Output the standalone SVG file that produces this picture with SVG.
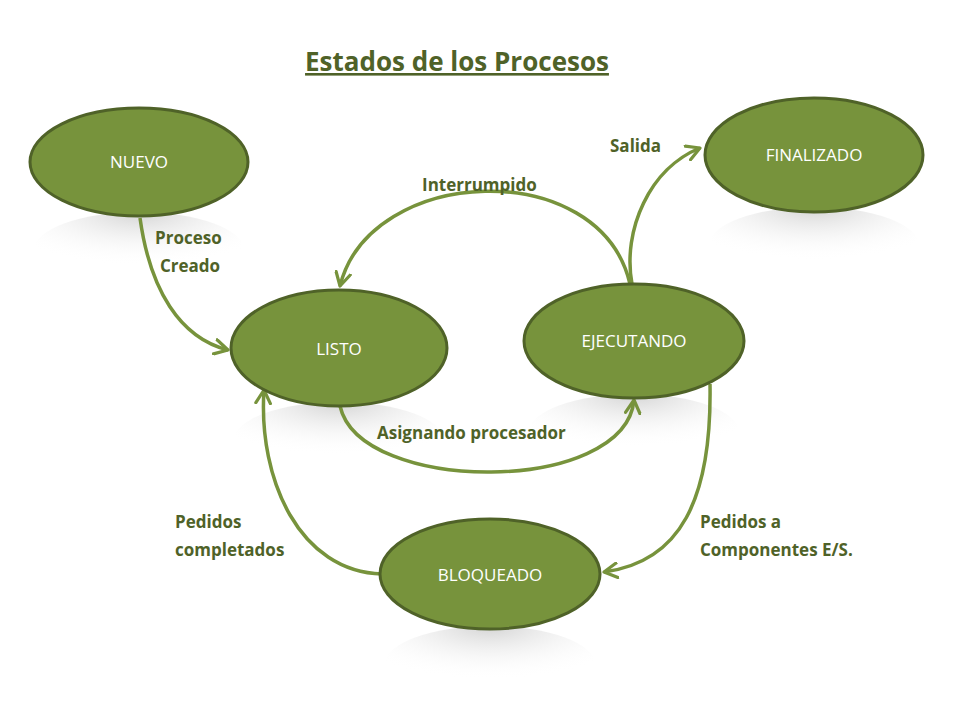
<svg xmlns="http://www.w3.org/2000/svg" width="960" height="720" viewBox="0 0 960 720">
<defs>
<radialGradient id="refl" cx="0.5" cy="0" r="0.7">
<stop offset="0" stop-color="#c8c8c8" stop-opacity="0.8"/>
<stop offset="1" stop-color="#ffffff" stop-opacity="0"/>
</radialGradient>
<marker id="arr" viewBox="0 0 12 12" refX="10" refY="6" markerWidth="5" markerHeight="5" orient="auto" markerUnits="strokeWidth">
<path d="M1,1 L10,6 L1,11" fill="none" stroke="#77933c" stroke-width="2.2" stroke-linecap="round" stroke-linejoin="round"/>
</marker>
<style>
.n{fill:#77933c;stroke:#4f6228;stroke-width:3}
.r{fill:url(#refl)}
.t{font-family:"Open Sans","Liberation Sans",sans-serif;font-size:17px;fill:#fff;text-anchor:middle}
.l{font-family:"Open Sans","Liberation Sans",sans-serif;font-size:17px;font-weight:bold;fill:#4f6228}
.c{fill:none;stroke:#77933c;stroke-width:3.5;marker-end:url(#arr)}
</style>
</defs>
<rect width="960" height="720" fill="#fff"/>
<text x="457" y="71" font-family="Open Sans,Liberation Sans,sans-serif" font-size="26" font-weight="bold" fill="#4f6228" text-anchor="middle" text-decoration="underline">Estados de los Procesos</text>
<g id="reflections">
<ellipse class="r" cx="139" cy="250" rx="105" ry="38"/>
<ellipse class="r" cx="814" cy="245" rx="105" ry="38"/>
<ellipse class="r" cx="339" cy="440" rx="105" ry="38"/>
<ellipse class="r" cx="634" cy="432" rx="105" ry="38"/>
<ellipse class="r" cx="490" cy="664" rx="105" ry="38"/>
</g>
<g id="connectors">
<path class="c" d="M140,218 C150,290 180,338 228,350"/>
<path class="c" d="M630,284 C600,155 370,165 340,286"/>
<path class="c" d="M632,284 C622,230 650,168 700,148"/>
<path class="c" d="M340,406 C360,495 625,495 634,400"/>
<path class="c" d="M710,384 C712,500 680,562 604,572"/>
<path class="c" d="M382,574 C300,572 258,480 264,390"/>
</g>
<g id="nuevo"><ellipse class="n" cx="139" cy="162" rx="109" ry="54"/><text class="t" x="139" y="168">NUEVO</text></g>
<g id="finalizado"><ellipse class="n" cx="814" cy="155" rx="109" ry="57"/><text class="t" x="814" y="161">FINALIZADO</text></g>
<g id="listo"><ellipse class="n" cx="339" cy="348" rx="108" ry="58"/><text class="t" x="339" y="355">LISTO</text></g>
<g id="ejecutando"><ellipse class="n" cx="634" cy="341" rx="110" ry="57"/><text class="t" x="634" y="347">EJECUTANDO</text></g>
<g id="bloqueado"><ellipse class="n" cx="490" cy="574" rx="110" ry="55"/><text class="t" x="490" y="581">BLOQUEADO</text></g>
<g id="labels">
<text class="l" x="155" y="244">Proceso</text>
<text class="l" x="160" y="272">Creado</text>
<text class="l" x="422" y="191">Interrumpido</text>
<text class="l" x="610" y="152">Salida</text>
<text class="l" x="377" y="439">Asignando procesador</text>
<text class="l" x="700" y="528">Pedidos a</text>
<text class="l" x="700" y="556">Componentes E/S.</text>
<text class="l" x="175" y="528">Pedidos</text>
<text class="l" x="175" y="556">completados</text>
</g>
</svg>
